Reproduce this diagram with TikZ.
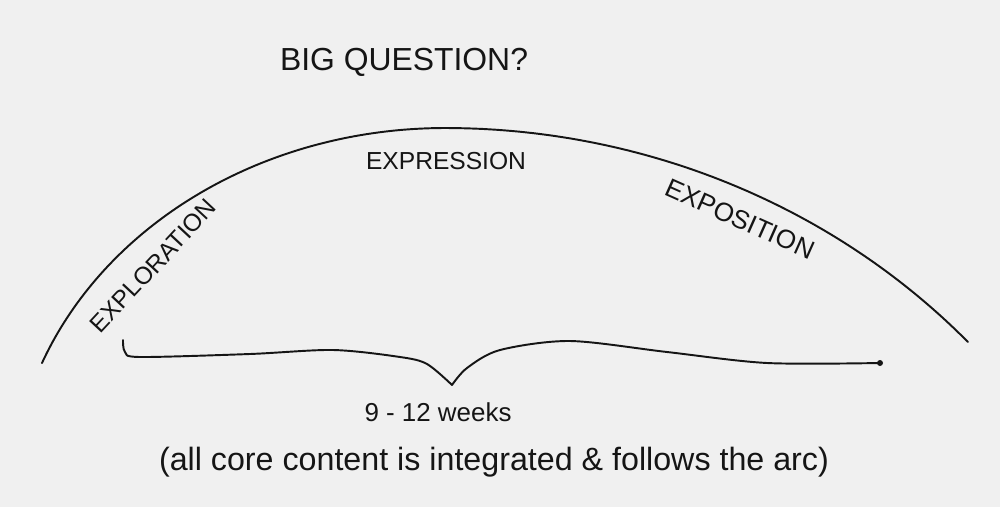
\documentclass[tikz,border=0pt]{standalone}
\usepackage{fontspec}
\setmainfont{Liberation Sans}
\usepackage{graphicx}
\definecolor{bg}{HTML}{F0F0F0}
\definecolor{ink}{HTML}{151515}
\begin{document}
\begin{tikzpicture}[x=0.02cm,y=-0.02cm,
  inkline/.style={draw=ink, line width=1.1pt, line cap=round, line join=round},
  lbl/.style={text=ink, inner sep=0pt}]
\fill[bg] (0,0) rectangle (1000,507);
\useasboundingbox (0,0) rectangle (1000,507);
% arc (two elliptic halves meeting at the apex)
\draw[inkline] plot[domain=158.4:90, samples=80] ({445+433.5*cos(\x)},{500-372*sin(\x)})
  -- plot[domain=90:42.97, samples=80] ({445+714.7*cos(\x)},{800-672*sin(\x)});
% brace
\draw[inkline] plot[smooth, tension=0.5] coordinates {(123,340) (125,352) (140,357) (250,354) (333,350) (400,357) (427,364) (452,385)};
\draw[inkline] plot[smooth, tension=0.5] coordinates {(452,385) (467,368) (500,350) (570,341) (667,352) (767,363) (880,363)};
\coordinate (braceend) at (880,363);
\fill[ink] (braceend) circle (3);
% labels
\node[lbl] (title) at (404,62) {\resizebox{4.96cm}{!}{BIG QUESTION?}};
\node[lbl] (expression) at (446,161) {\resizebox{3.2cm}{!}{EXPRESSION}};
\node[lbl, rotate=47] (exploration) at (153,266) {\resizebox{3.44cm}{!}{EXPLORATION}};
\node[lbl, rotate=-24] (exposition) at (740,219) {\resizebox{3.2cm}{!}{EXPOSITION}};
\node[lbl] (weeks) at (438,412) {\resizebox{2.94cm}{!}{9 - 12 weeks}};
\node[lbl] (note) at (494,462) {\resizebox{13.4cm}{!}{(all core content is integrated \& follows the arc)}};
\end{tikzpicture}
\end{document}
